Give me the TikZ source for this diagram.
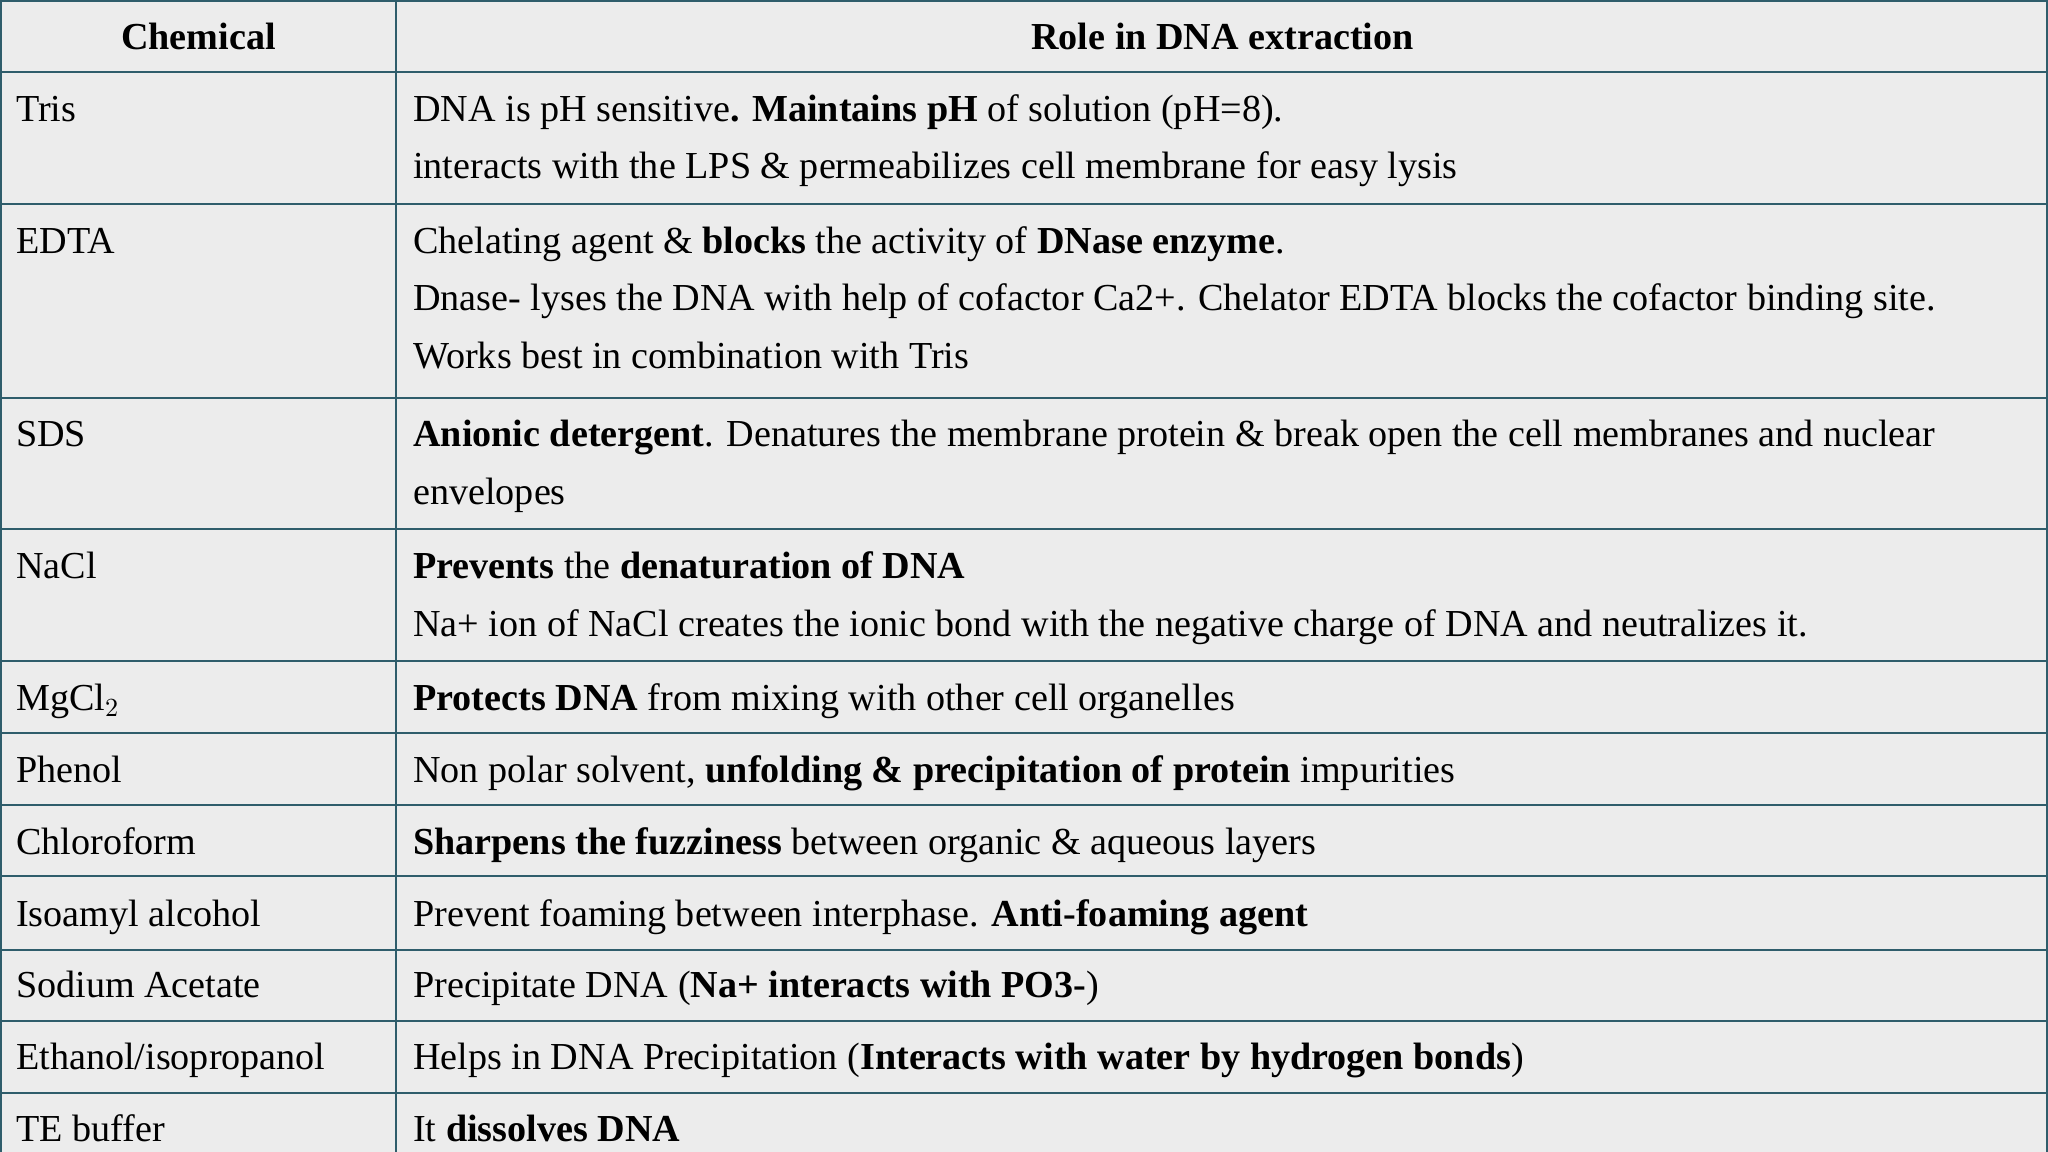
\documentclass[tikz,border=0pt]{standalone}
\usepackage{fontspec}
\setmainfont{Liberation Serif}
\begin{document}
\begin{tikzpicture}[x=0.5pt,y=-0.5pt,
  txt/.style={anchor=base west,inner sep=0pt,font=\fontsize{14.6}{16}\selectfont},
  hdr/.style={anchor=base,inner sep=0pt,font=\fontsize{14.6}{16}\selectfont\bfseries}]
\definecolor{bg}{HTML}{ECECEC}
\definecolor{ln}{HTML}{2F5D6B}
\fill[bg] (0,0) rectangle (1568,882);
\useasboundingbox (0,0) rectangle (1568,882);
\foreach \y in {1,55,156,305,405,506,561,616,671,727,782,837}
  \draw[ln,line width=0.8pt] (0,\y) -- (1568,\y);
\draw[ln,line width=0.8pt] (1,0) -- (1,882);
\draw[ln,line width=0.8pt] (303,0) -- (303,882);
\draw[ln,line width=0.8pt] (1567,0) -- (1567,882);
\node[hdr] (h1) at (152,38) {Chemical};
\node[hdr] (h2) at (936,38) {Role in DNA extraction};
% chemicals
\node[txt] (c1) at (12,93) {Tris};
\node[txt] (c2) at (12,194) {EDTA};
\node[txt] (c3) at (12,342) {SDS};
\node[txt] (c4) at (12,443) {NaCl};
\node[txt] (c5) at (12,544) {MgCl$_2$};
\node[txt] (c6) at (12,599) {Phenol};
\node[txt] (c7) at (12,654) {Chloroform};
\node[txt] (c8) at (12,709) {Isoamyl alcohol};
\node[txt] (c9) at (12,764) {Sodium Acetate};
\node[txt] (c10) at (12,819) {Ethanol/isopropanol};
\node[txt] (c11) at (12,874) {TE buffer};
% roles
\node[txt] (r1a) at (316,93) {DNA is pH sensitive\textbf{. Maintains pH} of solution (pH=8).};
\node[txt] (r1b) at (316,137) {interacts with the LPS \& permeabilizes cell membrane for easy lysis};
\node[txt] (r2a) at (316,194) {Chelating agent \& \textbf{blocks} the activity of \textbf{DNase enzyme}.};
\node[txt] (r2b) at (316,238) {Dnase- lyses the DNA with help of cofactor Ca2+. Chelator EDTA blocks the cofactor binding site.};
\node[txt] (r2c) at (316,282) {Works best in combination with Tris};
\node[txt] (r3a) at (316,342) {\textbf{Anionic detergent}. Denatures the membrane protein \& break open the cell membranes and nuclear};
\node[txt] (r3b) at (316,386) {envelopes};
\node[txt] (r4a) at (316,443) {\textbf{Prevents} the \textbf{denaturation of DNA}};
\node[txt] (r4b) at (316,487) {Na+ ion of NaCl creates the ionic bond with the negative charge of DNA and neutralizes it.};
\node[txt] (r5) at (316,544) {\textbf{Protects DNA} from mixing with other cell organelles};
\node[txt] (r6) at (316,599) {Non polar solvent, \textbf{unfolding \& precipitation of protein} impurities};
\node[txt] (r7) at (316,654) {\textbf{Sharpens the fuzziness} between organic \& aqueous layers};
\node[txt] (r8) at (316,709) {Prevent foaming between interphase. \textbf{Anti-foaming agent}};
\node[txt] (r9) at (316,764) {Precipitate DNA (\textbf{Na+ interacts with PO3-})};
\node[txt] (r10) at (316,819) {Helps in DNA Precipitation (\textbf{Interacts with water by hydrogen bonds})};
\node[txt] (r11) at (316,874) {It \textbf{dissolves DNA}};
\end{tikzpicture}
\end{document}
